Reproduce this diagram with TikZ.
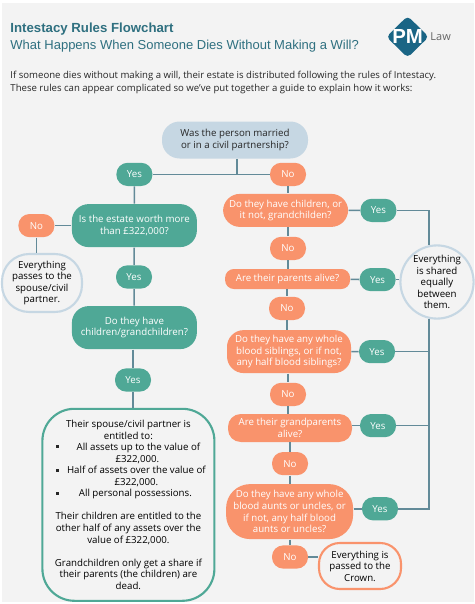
\documentclass[tikz,border=0pt]{standalone}
\usepackage{fontspec}
\setmainfont{Open Sans}
\newfontfamily\headfont{Liberation Sans}
\usetikzlibrary{calc}
\definecolor{pagebg}{HTML}{F3F3F3}
\definecolor{teal}{HTML}{4FA896}
\definecolor{coral}{HTML}{F9936C}
\definecolor{paleblue}{HTML}{C6D7E3}
\definecolor{linkline}{HTML}{628A98}
\definecolor{headline}{HTML}{2F7080}
\definecolor{logoblue}{HTML}{1A6585}
\tikzset{
 body/.style={font=\fontsize{6.9}{8.22}\selectfont,align=center,inner sep=0pt},
 pill/.style={body,rectangle,rounded corners=.42cm,text=white},
 tealbox/.style={pill,fill=teal},
 coralbox/.style={pill,fill=coral},
 yesnode/.style={tealbox,rounded corners=.28cm,minimum width=.9cm,minimum height=.58cm},
 nonode/.style={coralbox,rounded corners=.28cm,minimum width=.9cm,minimum height=.58cm},
 link/.style={draw=linkline,line width=1.1pt},
 bulletmark/.style={fill=black!85,inner sep=0pt,minimum size=2pt}
}
\begin{document}
\begin{tikzpicture}[line width=.65pt]
\useasboundingbox (0,0) rectangle (11.85,-15.1);
\fill[pagebg] (.05,-.07) rectangle (11.85,-15.05);
\node[anchor=west,inner sep=0pt,text=headline,font=\headfont\bfseries\fontsize{9.4}{11}\selectfont] (title) at (.25,-.72) {Intestacy Rules Flowchart};
\node[anchor=west,inner sep=0pt,text=headline,font=\headfont\fontsize{9.25}{11}\selectfont] (subtitle) at (.25,-1.16) {What Happens When Someone Dies Without Making a Will?};
\node[anchor=north west,inner sep=0pt,align=left,text=black!85,font=\fontsize{6.82}{9.2}\selectfont] (intro) at (.25,-1.78) {If someone dies without making a will, their estate is distributed following the rules of Intestacy.\\These rules can appear complicated so we've put together a guide to explain how it works:};
% logo
\fill[logoblue,rounded corners=3pt] (10.19,-.4) -- (10.72,-.92) -- (10.19,-1.44) -- (9.66,-.92) -- cycle;
\node[text=white,inner sep=0pt,font=\headfont\bfseries\fontsize{14.5}{14.5}\selectfont] (pm) at (10.19,-.92) {PM};
\node[anchor=west,inner sep=0pt,text=black!60,font=\fontsize{7.8}{8}\selectfont] (law) at (10.75,-.92) {Law};
% question boxes
\node[pill,fill=paleblue,text=black!85,minimum width=3.65cm,minimum height=.925cm,rounded corners=.44cm] (start) at (5.875,-3.5) {Was the person married\\or in a civil partnership?};
\node[tealbox,minimum width=3.125cm,minimum height=1.075cm] (estate) at (3.36,-5.64) {Is the estate worth more\\than £322,000?};
\node[tealbox,minimum width=3.125cm,minimum height=1.075cm] (children) at (3.36,-8.19) {Do they have\\children/grandchildren?};
\node[coralbox,minimum width=3.125cm,minimum height=.825cm] (qa) at (7.14,-5.26) {Do they have children, or\\it not, grandchilden?};
\node[coralbox,minimum width=3.125cm,minimum height=.5cm,rounded corners=.22cm] (qb) at (7.19,-6.975) {Are their parents alive?};
\node[coralbox,minimum width=3.1cm,minimum height=1.075cm] (qc) at (7.225,-8.79) {Do they have any whole\\blood siblings, or if not,\\any half blood siblings?};
\node[coralbox,minimum width=3.1cm,minimum height=.7cm,rounded corners=.32cm] (qd) at (7.25,-10.7) {Are their grandparents\\alive?};
\node[coralbox,minimum width=3.175cm,minimum height=1.375cm,rounded corners=.6cm] (qe) at (7.24,-12.79) {Do they have any whole\\blood aunts or uncles, or\\if not, any half blood\\aunts or uncles?};
% answers
\foreach \nm/\x/\y in {yesm/3.36/-4.36,yesn/3.35/-6.925,yesk/3.325/-9.5,yesa/9.46/-5.26,yesb/9.44/-6.99,yesc/9.425/-8.79,yesd/9.45/-10.64,yese/9.5/-12.72}
 \node[yesnode] (\nm) at (\x,\y) {Yes};
\foreach \nm/\x/\y in {nom/7.2/-4.36,noe/.91/-5.64,noa/7.2/-6.21,nob/7.175/-7.71,noc/7.2/-9.86,nod/7.25/-11.59,nof/7.25/-13.925}
 \node[nonode] (\nm) at (\x,\y) {No};
% outcomes
\node[body,draw=paleblue,line width=1.5pt,fill=pagebg,minimum width=2cm,minimum height=1.45cm,rounded corners=.68cm] (spouse) at (1.05,-7.075) {Everything\\passes to the\\spouse/civil\\partner.};
\node[body,draw=paleblue,line width=1.5pt,fill=pagebg,circle,minimum size=1.83cm] (shared) at (10.925,-7.05) {Everything\\is shared\\equally\\between\\them.};
\node[body,draw=coral,line width=1.5pt,fill=pagebg,minimum width=2.05cm,minimum height=1.15cm,rounded corners=.52cm] (crown) at (9,-14.15) {Everything is\\passed to the\\Crown.};
\node[body,draw=teal,line width=1.5pt,fill=pagebg,minimum width=4.3cm,minimum height=4.8cm,rounded corners=.8cm] (rights) at (3.21,-12.62) {Their spouse/civil partner is\\entitled to:\\\hspace*{.5cm}All assets up to the value of\\\hspace*{.45cm}£322,000.\\\hspace*{.4cm}Half of assets over the value of\\\hspace*{.4cm}£322,000.\\\hspace*{.35cm}All personal possessions.\\[\baselineskip]Their children are entitled to the\\other half of any assets over the\\value of £322,000.\\[\baselineskip]Grandchildren only get a share if\\their parents (the children) are\\dead.};
\foreach \nm/\y in {bulA/-11.17,bulB/-11.76,bulC/-12.34}
 \node[bulletmark] (\nm) at (1.43,\y) {};
% links
\coordinate (split) at (5.925,-4.36);
\draw[link] (start.south -| split) -- (split) (yesm) -- (nom);
\draw[link] (yesm) -- (estate) (estate) -- (yesn) (yesn) -- (children);
\draw[link] (estate) -- (noe) (noe) -- (noe |- spouse.north);
\draw[link] (children.south -| yesk) -- (yesk) (yesk) -- (yesk |- rights.north);
\draw[link] (nom) -- (nom |- qa.north) (noa |- qa.south) -- (noa) (noa) -- (noa |- qb.north);
\draw[link] (nob |- qb.south) -- (nob) (nob) -- (nob |- qc.north);
\draw[link] (noc |- qc.south) -- (noc) (noc) -- (noc |- qd.north);
\draw[link] (nod |- qd.south) -- (nod) (nod) -- (nod |- qe.north) (qe.south -| nof) -- (nof);
\draw[link] (nof) -- (nof -| crown.west);
\draw[link] (qa) -- (yesa) (qb) -- (yesb) (qc) -- (yesc);
\draw[link] (qd.east |- yesd) -- (yesd) (qe.east |- yese) -- (yese);
\draw[link] (yesa) -| (shared.102) (yesb) -- (yesb -| shared.west);
\draw[link] (shared.258) |- (yese);
\draw[link] (yesc) -- (yesc -| shared.258) (yesd) -- (yesd -| shared.258);
\end{tikzpicture}
\end{document}
